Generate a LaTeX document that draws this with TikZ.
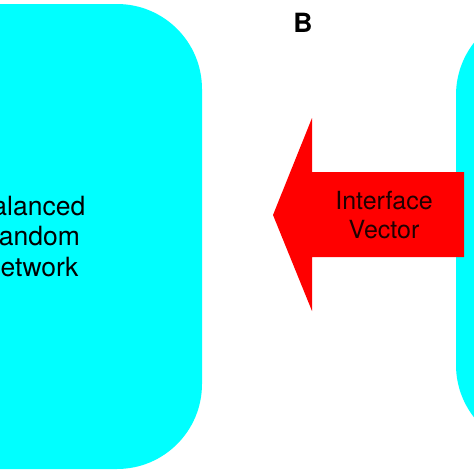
\documentclass[tikz,border=0pt]{standalone}
\usepackage{fontspec}
\setmainfont{TeX Gyre Heros}
\definecolor{boxcyan}{RGB}{0,255,255}
\definecolor{ivred}{RGB}{255,0,0}
\tikzset{
  netbox/.style={fill=boxcyan, rounded corners=85pt, inner sep=0pt},
  ivlabel/.style={align=center, text=black!88!ivred, font=\fontsize{25}{29}\selectfont}
}
\begin{document}
\begin{tikzpicture}[x=1pt, y=-1pt]
            \useasboundingbox (0,0) rectangle (474,474);
            \clip (0,0) rectangle (474,474);
            \node[netbox, minimum width=344pt, minimum height=465pt, align=center,
                  font=\fontsize{26.5}{30.5}\selectfont] (net) at (30,236.5) {Balanced\\Random\\Network};
            \node[netbox, minimum width=300pt, minimum height=440pt] (ctl) at (606,230) {};
            \node[font=\bfseries\fontsize{26.5}{30}\selectfont, anchor=base] (lbl) at (303,32) {B};
            % interface vector arrow, from ctl towards net
            \fill[ivred] (273,215) -- (312,118) -- (312,172) -- (464,172)
                -- (464,257) -- (312,257) -- (312,311) -- cycle;
            \node[ivlabel] (iv) at (384,215) {Interface\\Vector};
        \end{tikzpicture}
\end{document}
